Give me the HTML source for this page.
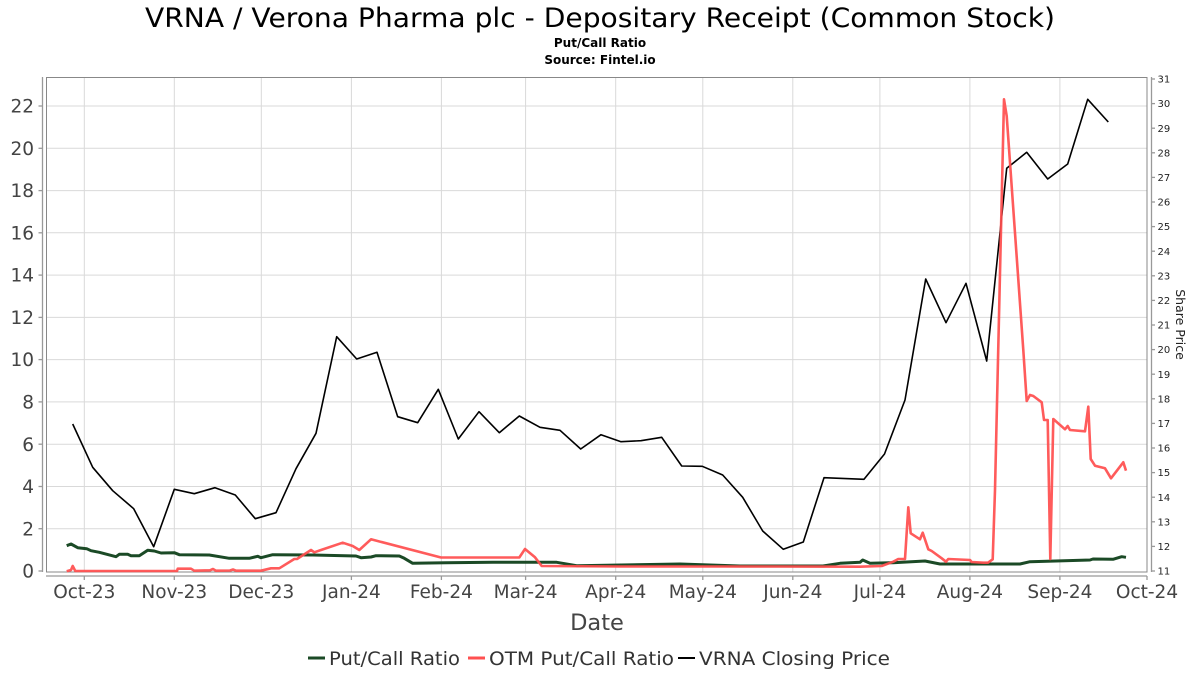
<!DOCTYPE html>
<html><head><meta charset="utf-8"><style>
html,body{margin:0;padding:0;background:#fff;}
svg{display:block;font-family:"DejaVu Sans","Liberation Sans",sans-serif;}
</style></head><body>
<svg width="1200" height="675" viewBox="0 0 1200 675" xmlns="http://www.w3.org/2000/svg">
<rect width="1200" height="675" fill="#fff"/>
<text x="600" y="27" font-size="27" text-anchor="middle" fill="#000" textLength="910" lengthAdjust="spacingAndGlyphs">VRNA / Verona Pharma plc - Depositary Receipt (Common Stock)</text>
<text x="600" y="47" font-size="12" font-weight="bold" text-anchor="middle" fill="#000">Put/Call Ratio</text>
<text x="600" y="64" font-size="12" font-weight="bold" text-anchor="middle" fill="#000">Source: Fintel.io</text>
<g stroke="#d9d9d9" stroke-width="1">
<line x1="84.3" y1="77" x2="84.3" y2="572"/><line x1="174.3" y1="77" x2="174.3" y2="572"/><line x1="261.3" y1="77" x2="261.3" y2="572"/><line x1="351.4" y1="77" x2="351.4" y2="572"/><line x1="441.4" y1="77" x2="441.4" y2="572"/><line x1="525.6" y1="77" x2="525.6" y2="572"/><line x1="615.7" y1="77" x2="615.7" y2="572"/><line x1="702.8" y1="77" x2="702.8" y2="572"/><line x1="792.8" y1="77" x2="792.8" y2="572"/><line x1="879.9" y1="77" x2="879.9" y2="572"/><line x1="969.9" y1="77" x2="969.9" y2="572"/><line x1="1059.9" y1="77" x2="1059.9" y2="572"/>
<line x1="46" y1="528.7" x2="1147" y2="528.7"/><line x1="46" y1="486.5" x2="1147" y2="486.5"/><line x1="46" y1="444.2" x2="1147" y2="444.2"/><line x1="46" y1="401.9" x2="1147" y2="401.9"/><line x1="46" y1="359.6" x2="1147" y2="359.6"/><line x1="46" y1="317.4" x2="1147" y2="317.4"/><line x1="46" y1="275.1" x2="1147" y2="275.1"/><line x1="46" y1="232.8" x2="1147" y2="232.8"/><line x1="46" y1="190.6" x2="1147" y2="190.6"/><line x1="46" y1="148.3" x2="1147" y2="148.3"/><line x1="46" y1="106" x2="1147" y2="106"/>
</g>
<rect x="46.5" y="77.5" width="1100.5" height="494.5" fill="none" stroke="#888" stroke-width="1"/>
<g stroke="#999" stroke-width="1.3" fill="none">
<line x1="42.5" y1="77" x2="42.5" y2="572"/>
<line x1="46" y1="576" x2="1147" y2="576"/>
<line x1="1151.5" y1="77" x2="1151.5" y2="572"/>
<line x1="38.5" y1="571" x2="42.5" y2="571"/><line x1="38.5" y1="528.7" x2="42.5" y2="528.7"/><line x1="38.5" y1="486.5" x2="42.5" y2="486.5"/><line x1="38.5" y1="444.2" x2="42.5" y2="444.2"/><line x1="38.5" y1="401.9" x2="42.5" y2="401.9"/><line x1="38.5" y1="359.6" x2="42.5" y2="359.6"/><line x1="38.5" y1="317.4" x2="42.5" y2="317.4"/><line x1="38.5" y1="275.1" x2="42.5" y2="275.1"/><line x1="38.5" y1="232.8" x2="42.5" y2="232.8"/><line x1="38.5" y1="190.6" x2="42.5" y2="190.6"/><line x1="38.5" y1="148.3" x2="42.5" y2="148.3"/><line x1="38.5" y1="106" x2="42.5" y2="106"/>
<line x1="84.3" y1="576" x2="84.3" y2="580"/><line x1="174.3" y1="576" x2="174.3" y2="580"/><line x1="261.3" y1="576" x2="261.3" y2="580"/><line x1="351.4" y1="576" x2="351.4" y2="580"/><line x1="441.4" y1="576" x2="441.4" y2="580"/><line x1="525.6" y1="576" x2="525.6" y2="580"/><line x1="615.7" y1="576" x2="615.7" y2="580"/><line x1="702.8" y1="576" x2="702.8" y2="580"/><line x1="792.8" y1="576" x2="792.8" y2="580"/><line x1="879.9" y1="576" x2="879.9" y2="580"/><line x1="969.9" y1="576" x2="969.9" y2="580"/><line x1="1059.9" y1="576" x2="1059.9" y2="580"/><line x1="1147" y1="576" x2="1147" y2="580"/>
<line x1="1151.5" y1="571" x2="1155" y2="571"/><line x1="1151.5" y1="546.4" x2="1155" y2="546.4"/><line x1="1151.5" y1="521.8" x2="1155" y2="521.8"/><line x1="1151.5" y1="497.2" x2="1155" y2="497.2"/><line x1="1151.5" y1="472.6" x2="1155" y2="472.6"/><line x1="1151.5" y1="448" x2="1155" y2="448"/><line x1="1151.5" y1="423.4" x2="1155" y2="423.4"/><line x1="1151.5" y1="398.8" x2="1155" y2="398.8"/><line x1="1151.5" y1="374.2" x2="1155" y2="374.2"/><line x1="1151.5" y1="349.6" x2="1155" y2="349.6"/><line x1="1151.5" y1="325" x2="1155" y2="325"/><line x1="1151.5" y1="300.4" x2="1155" y2="300.4"/><line x1="1151.5" y1="275.8" x2="1155" y2="275.8"/><line x1="1151.5" y1="251.2" x2="1155" y2="251.2"/><line x1="1151.5" y1="226.6" x2="1155" y2="226.6"/><line x1="1151.5" y1="202" x2="1155" y2="202"/><line x1="1151.5" y1="177.4" x2="1155" y2="177.4"/><line x1="1151.5" y1="152.8" x2="1155" y2="152.8"/><line x1="1151.5" y1="128.2" x2="1155" y2="128.2"/><line x1="1151.5" y1="103.6" x2="1155" y2="103.6"/><line x1="1151.5" y1="79" x2="1155" y2="79"/>
</g>
<g font-size="18.5" fill="#444" text-anchor="end">
<text x="34" y="577.6">0</text><text x="34" y="535.3">2</text><text x="34" y="493.1">4</text><text x="34" y="450.8">6</text><text x="34" y="408.5">8</text><text x="34" y="366.2">10</text><text x="34" y="324">12</text><text x="34" y="281.7">14</text><text x="34" y="239.4">16</text><text x="34" y="197.2">18</text><text x="34" y="154.9">20</text><text x="34" y="112.6">22</text>
</g>
<g font-size="10" fill="#222">
<text x="1157.5" y="574.6">11</text><text x="1157.5" y="550">12</text><text x="1157.5" y="525.4">13</text><text x="1157.5" y="500.8">14</text><text x="1157.5" y="476.2">15</text><text x="1157.5" y="451.6">16</text><text x="1157.5" y="427">17</text><text x="1157.5" y="402.4">18</text><text x="1157.5" y="377.8">19</text><text x="1157.5" y="353.2">20</text><text x="1157.5" y="328.6">21</text><text x="1157.5" y="304">22</text><text x="1157.5" y="279.4">23</text><text x="1157.5" y="254.8">24</text><text x="1157.5" y="230.2">25</text><text x="1157.5" y="205.6">26</text><text x="1157.5" y="181">27</text><text x="1157.5" y="156.4">28</text><text x="1157.5" y="131.8">29</text><text x="1157.5" y="107.2">30</text><text x="1157.5" y="82.6">31</text>
</g>
<text transform="translate(1176,324.5) rotate(90)" font-size="12.5" text-anchor="middle" fill="#222">Share Price</text>
<g font-size="18.5" fill="#444" text-anchor="middle">
<text x="84.3" y="598">Oct-23</text><text x="174.3" y="598">Nov-23</text><text x="261.3" y="598">Dec-23</text><text x="351.4" y="598">Jan-24</text><text x="441.4" y="598">Feb-24</text><text x="525.6" y="598">Mar-24</text><text x="615.7" y="598">Apr-24</text><text x="702.8" y="598">May-24</text><text x="792.8" y="598">Jun-24</text><text x="879.9" y="598">Jul-24</text><text x="969.9" y="598">Aug-24</text><text x="1059.9" y="598">Sep-24</text><text x="1147" y="598">Oct-24</text>
</g>
<text x="597" y="630" font-size="22.5" text-anchor="middle" fill="#444">Date</text>
<polyline fill="none" stroke="#000" stroke-width="1.6" stroke-linejoin="round" points="72.7,424 92.7,467.3 112.7,490.7 133.7,508.7 153.7,546.7 174.3,489.3 194.3,493.7 215,487.7 235.3,495 255.3,518.7 276,512.7 296,468.7 316,433.3 336.7,336.7 356.7,359 377,352.3 397.7,416.7 417.7,422.7 438.3,389.3 458.3,439 479,411.7 499.3,432.7 519.3,416 540,427.3 560,430.3 580.7,449 601,434.7 621,441.7 641,440.7 661.7,437.3 681.7,466 702.3,466.3 722.7,475 742.7,497.3 762.7,531 783.3,549.3 803.3,542 824,477.7 864,479.3 884.5,454 905,400 925.7,279 946,322.7 966,283.3 986.7,361 1006.7,168.3 1026.7,152.3 1047.7,179 1067.7,164 1087.7,99.3 1108.3,122"/>
<polyline fill="none" stroke="#1b4a26" stroke-width="3" stroke-linejoin="round" points="66.7,545.7 71,544 77.7,547.7 86.7,548.7 91,550.7 99.3,552.3 116,556.7 119.3,554.3 127.7,554.3 131,555.7 139.3,555.7 147.7,550.3 154.3,551 161,553 174.3,552.7 179.3,554.7 209.3,555 229.3,558.3 249.3,558.3 257.7,556.3 261,557.7 272.7,554.7 312.7,555 356,556 361,557.7 371,557 376,555.7 399.3,556 404.3,558.3 412.7,563.3 446,562.7 493,562.3 556.7,562.3 576.7,565.7 680,564 740,566 823,566 840,563.3 860,562.3 862.7,560 870,563.3 893,562.7 925,561 940,564 1020,564 1030,561.7 1090,560 1093,559 1113,559.3 1121.7,556.7 1126,557.3"/>
<polyline fill="none" stroke="#ff4d4d" stroke-opacity="0.92" stroke-width="2.6" stroke-linejoin="round" points="66.7,571.3 71,570 72.7,566 75.3,571 177,571 177.7,568.7 191,568.7 194.3,570.7 210,570.3 213,569 216,570.7 230,570.5 233,569.5 236,570.7 261,570.7 271,568.3 279.3,568.3 294.3,559 297,559 311,550 314.3,552.3 321,550 342.7,542.7 352.7,546 359.3,550 371,539.3 441,557.5 519.3,557.5 525,549 535,557.3 541.7,566 620,566.5 700,566.5 780,566.5 860,566.7 881.7,566 893.3,561.7 898.3,559 905,559 908.3,507.3 910.7,533.3 920,539.3 922.7,532.7 928.3,549.3 931.7,551 941.7,558.3 946,561.7 948.3,559 970,560 971.7,562 983.3,562.7 988,562.7 992.7,559.3 995,490 1004,99.3 1006.7,116 1023.3,350 1026.7,401 1030,395 1033.3,396 1041.7,402.3 1044,420 1047.7,420 1050.3,559 1053.3,419 1065,429.3 1067.7,426 1070,430 1085,431.3 1088.3,406.7 1090.7,459 1095,465.7 1105,468.3 1111,478.3 1123.3,462.3 1126,470.7"/>
<line x1="308" y1="658" x2="325" y2="658" stroke="#1b4a26" stroke-width="3"/>
<text x="329" y="665" font-size="19" fill="#333" textLength="131" lengthAdjust="spacingAndGlyphs">Put/Call Ratio</text>
<line x1="468" y1="658" x2="485" y2="658" stroke="#ff5050" stroke-width="3"/>
<text x="489" y="665" font-size="19" fill="#333" textLength="185" lengthAdjust="spacingAndGlyphs">OTM Put/Call Ratio</text>
<line x1="678" y1="658" x2="695" y2="658" stroke="#000" stroke-width="2"/>
<text x="699" y="665" font-size="19" fill="#333" textLength="191" lengthAdjust="spacingAndGlyphs">VRNA Closing Price</text>
</svg>
</body></html>
